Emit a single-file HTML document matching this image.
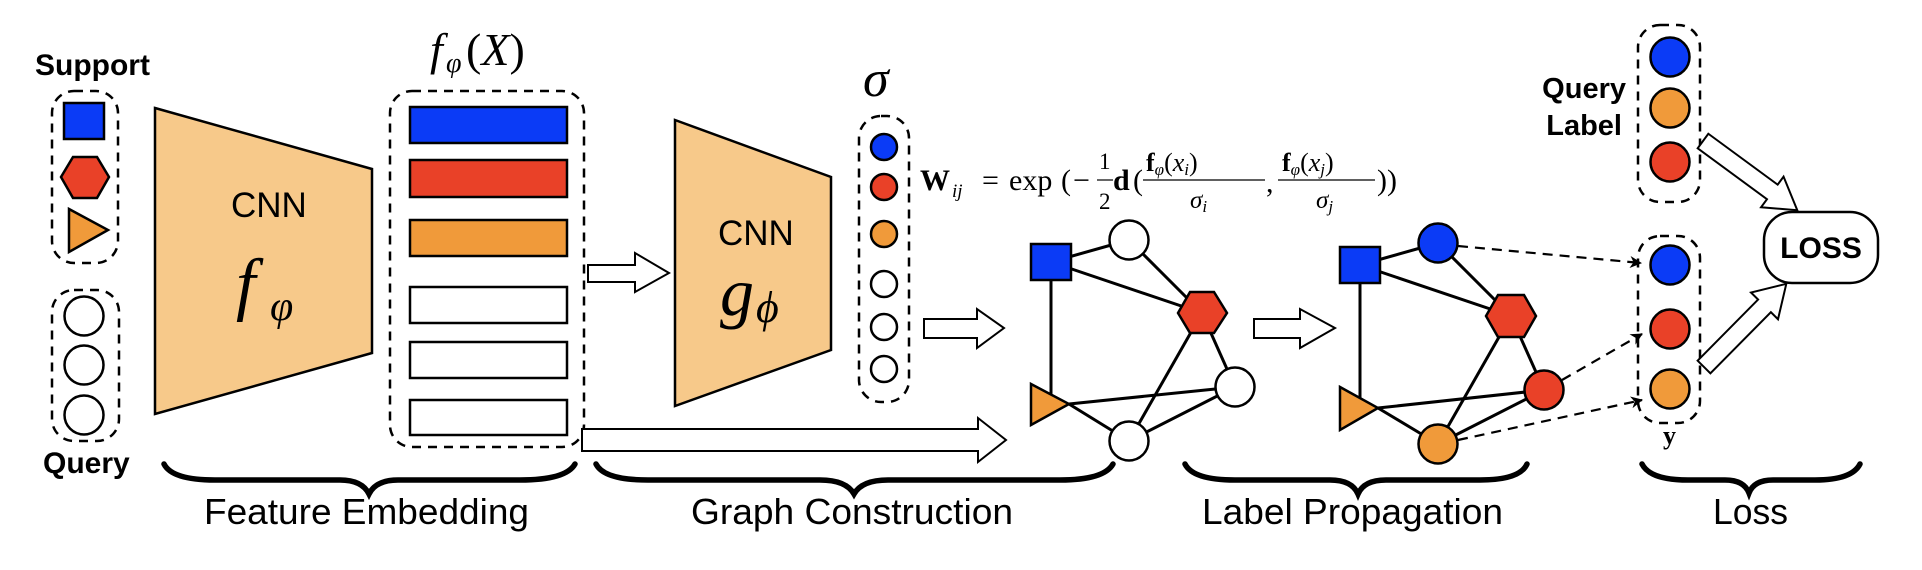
<!DOCTYPE html>
<html><head><meta charset="utf-8"><style>
html,body{margin:0;padding:0;background:#fff}
svg{display:block}
.sans{font-family:"Liberation Sans",sans-serif}
.serif{font-family:"Liberation Serif",serif}
</style></head><body>
<svg width="1922" height="570" viewBox="0 0 1922 570" xmlns="http://www.w3.org/2000/svg">
<defs>
<marker id="ah" markerWidth="12" markerHeight="12" refX="11" refY="6" orient="auto" markerUnits="userSpaceOnUse">
<path d="M0,0 L12,6 L0,12 L3.5,6 Z" fill="#000"/>
</marker>
</defs>
<g stroke="#000" stroke-width="2.5">
<!-- Support -->
<text x="35" y="75" class="sans" font-weight="bold" font-size="30" stroke="none">Support</text>
<rect x="52" y="91" width="66" height="172" rx="22" fill="none" stroke-dasharray="9 7"/>
<rect x="64" y="103" width="40" height="36" fill="#0b3bf6"/>
<polygon points="61,177 73,157 97,157 109,177 97,198 73,198" fill="#e94128"/>
<polygon points="69,209 108,230 69,252" fill="#f09a3a"/>
<rect x="52" y="290" width="67" height="151" rx="22" fill="none" stroke-dasharray="9 7"/>
<circle cx="84" cy="316" r="19.5" fill="#fff"/>
<circle cx="84" cy="365" r="19.5" fill="#fff"/>
<circle cx="84" cy="415" r="19.5" fill="#fff"/>
<text x="43" y="473" class="sans" font-weight="bold" font-size="30" stroke="none">Query</text>

<!-- CNN 1 -->
<polygon points="155,108 372,169 372,353 155,414" fill="#f7c98a"/>
<text x="231" y="217" class="sans" font-size="35" stroke="none">CNN</text>
<text x="236" y="307" class="serif" font-style="italic" font-size="70" stroke="none">f</text>
<text x="270" y="320" class="serif" font-style="italic" font-size="42" stroke="none">φ</text>

<!-- Embeddings -->
<text x="430" y="65" class="serif" font-style="italic" font-size="46" stroke="none">f</text>
<text x="446" y="72" class="serif" font-style="italic" font-size="28" stroke="none">φ</text>
<text x="466" y="65" class="serif" font-size="46" stroke="none">(<tspan font-style="italic">X</tspan>)</text>
<rect x="390" y="91" width="194" height="356" rx="22" fill="none" stroke-dasharray="9 7"/>
<rect x="410" y="107" width="157" height="36" fill="#0b3bf6"/>
<rect x="410" y="160" width="157" height="37" fill="#e94128"/>
<rect x="410" y="220" width="157" height="36" fill="#f09a3a"/>
<rect x="410" y="287" width="157" height="36" fill="#fff"/>
<rect x="410" y="342" width="157" height="36" fill="#fff"/>
<rect x="410" y="400" width="157" height="35" fill="#fff"/>

<!-- Hollow arrows -->
<polygon points="588,265 635,265 635,253 669,273 635,292 635,282 588,282" fill="#fff" stroke-width="2"/>
<polygon points="582,429 978,429 978,418 1006,440 978,462 978,451 582,451" fill="#fff" stroke-width="2"/>
<polygon points="924,319 977,319 977,309 1004,328 977,348 977,338 924,338" fill="#fff" stroke-width="2"/>
<polygon points="1254,319 1300,319 1300,309 1335,328 1300,348 1300,338 1254,338" fill="#fff" stroke-width="2"/>

<!-- CNN 2 -->
<polygon points="675,120 831,177 831,350 675,406" fill="#f7c98a"/>
<text x="718" y="245" class="sans" font-size="35" stroke="none">CNN</text>
<text x="720" y="315" class="serif" font-style="italic" font-size="68" stroke="none">g</text>
<text x="756" y="322" class="serif" font-style="italic" font-size="44" stroke="none">ϕ</text>

<!-- sigma -->
<text x="863" y="96" class="serif" font-style="italic" font-size="52" stroke="none">σ</text>
<rect x="859" y="116" width="50" height="286" rx="22" fill="none" stroke-dasharray="9 7"/>
<circle cx="884" cy="147" r="13" fill="#0b3bf6"/>
<circle cx="884" cy="187" r="13" fill="#e94128"/>
<circle cx="884" cy="234" r="13" fill="#f09a3a"/>
<circle cx="884" cy="284" r="13" fill="#fff"/>
<circle cx="884" cy="327" r="13" fill="#fff"/>
<circle cx="884" cy="369" r="13" fill="#fff"/>

<!-- formula -->
<g stroke="none" class="serif">
<text x="920" y="190" font-size="30" font-weight="bold">W</text>
<text x="952" y="197" font-size="19" font-style="italic">ij</text>
<text x="982" y="190" font-size="30">=</text>
<text x="1009" y="190" font-size="30">exp</text>
<text x="1061" y="190" font-size="30">(</text>
<text x="1073" y="190" font-size="30">−</text>
<text x="1099" y="169" font-size="23">1</text>
<line x1="1097" y1="180" x2="1113" y2="180" stroke="#000" stroke-width="1.2"/>
<text x="1099" y="209" font-size="23">2</text>
<text x="1113" y="190" font-size="30" font-weight="bold">d</text>
<text x="1133" y="190" font-size="30">(</text>
<text x="1146" y="171" font-size="26"><tspan font-weight="bold">f</tspan><tspan font-size="17" font-style="italic" dy="4">φ</tspan><tspan dy="-4">(</tspan><tspan font-style="italic">x</tspan><tspan font-size="17" font-style="italic" dy="4">i</tspan><tspan dy="-4">)</tspan></text>
<line x1="1143" y1="180" x2="1265" y2="180" stroke="#000" stroke-width="1.2"/>
<text x="1190" y="208" font-size="25" font-style="italic">σ<tspan font-size="17" dy="4">i</tspan></text>
<text x="1266" y="192" font-size="30">,</text>
<text x="1282" y="171" font-size="26"><tspan font-weight="bold">f</tspan><tspan font-size="17" font-style="italic" dy="4">φ</tspan><tspan dy="-4">(</tspan><tspan font-style="italic">x</tspan><tspan font-size="17" font-style="italic" dy="4">j</tspan><tspan dy="-4">)</tspan></text>
<line x1="1278" y1="180" x2="1375" y2="180" stroke="#000" stroke-width="1.2"/>
<text x="1316" y="208" font-size="25" font-style="italic">σ<tspan font-size="17" dy="4">j</tspan></text>
<text x="1377" y="190" font-size="30">))</text>
</g>

<!-- Graph 1 -->
<g stroke-width="3">
<line x1="1051" y1="262" x2="1129" y2="240"/>
<line x1="1051" y1="262" x2="1202" y2="313"/>
<line x1="1129" y1="240" x2="1202" y2="313"/>
<line x1="1051" y1="262" x2="1051" y2="395"/>
<line x1="1069" y1="404" x2="1235" y2="387"/>
<line x1="1069" y1="404" x2="1129" y2="441"/>
<line x1="1202" y1="313" x2="1235" y2="387"/>
<line x1="1202" y1="313" x2="1129" y2="441"/>
<line x1="1235" y1="387" x2="1129" y2="441"/>
</g>
<rect x="1031" y="244" width="40" height="36" fill="#0b3bf6"/>
<circle cx="1129" cy="240" r="19.5" fill="#fff"/>
<polygon points="1178,313 1190,292 1214,292 1227,313 1214,333 1190,333" fill="#e94128"/>
<circle cx="1235" cy="387" r="19.5" fill="#fff"/>
<polygon points="1031,384 1069,404 1031,425" fill="#f09a3a"/>
<circle cx="1129" cy="441" r="19.5" fill="#fff"/>

<!-- Graph 2 -->
<g stroke-width="3">
<line x1="1360" y1="265" x2="1438" y2="243"/>
<line x1="1360" y1="265" x2="1511" y2="316"/>
<line x1="1438" y1="243" x2="1511" y2="316"/>
<line x1="1360" y1="265" x2="1360" y2="398"/>
<line x1="1378" y1="408" x2="1544" y2="390"/>
<line x1="1378" y1="408" x2="1438" y2="444"/>
<line x1="1511" y1="316" x2="1544" y2="390"/>
<line x1="1511" y1="316" x2="1438" y2="444"/>
<line x1="1544" y1="390" x2="1438" y2="444"/>
</g>
<g stroke-width="2.2" stroke-dasharray="10 7" fill="none">
<line x1="1458" y1="246" x2="1641" y2="263" marker-end="url(#ah)"/>
<line x1="1562" y1="380" x2="1642" y2="334" marker-end="url(#ah)"/>
<line x1="1458" y1="440" x2="1642" y2="400" marker-end="url(#ah)"/>
</g>
<rect x="1340" y="247" width="40" height="36" fill="#0b3bf6"/>
<circle cx="1438" cy="243" r="19.5" fill="#0b3bf6"/>
<polygon points="1486,316 1498,295 1524,295 1536,316 1524,337 1498,337" fill="#e94128"/>
<circle cx="1544" cy="390" r="19.5" fill="#e94128"/>
<polygon points="1340,387 1378,408 1340,430" fill="#f09a3a"/>
<circle cx="1438" cy="444" r="19.5" fill="#f09a3a"/>

<!-- Query label -->
<text x="1626" y="98" text-anchor="end" class="sans" font-weight="bold" font-size="29" stroke="none">Query</text>
<text x="1622" y="135" text-anchor="end" class="sans" font-weight="bold" font-size="29" stroke="none">Label</text>
<rect x="1638" y="25" width="62" height="177" rx="22" fill="none" stroke-dasharray="9 7"/>
<circle cx="1670" cy="57" r="19.5" fill="#0b3bf6"/>
<circle cx="1670" cy="108" r="19.5" fill="#f09a3a"/>
<circle cx="1670" cy="162" r="19.5" fill="#e94128"/>

<!-- y -->
<rect x="1638" y="236" width="62" height="187" rx="22" fill="none" stroke-dasharray="9 7"/>
<circle cx="1670" cy="265" r="19.5" fill="#0b3bf6"/>
<circle cx="1670" cy="329" r="19.5" fill="#e94128"/>
<circle cx="1670" cy="389" r="19.5" fill="#f09a3a"/>
<text x="1663" y="444" class="serif" font-weight="bold" font-size="26" stroke="none">y</text>

<!-- LOSS -->
<rect x="1764" y="212" width="114" height="71" rx="28" fill="#fff"/>
<text x="1821" y="258" text-anchor="middle" class="sans" font-weight="bold" font-size="30" stroke="none">LOSS</text>
<g transform="translate(1703,141) rotate(36.3)" >
<polygon points="0,-9 86,-9 86,-19 117,0 86,19 86,9 0,9" fill="#fff" stroke-width="2"/>
</g>
<g transform="translate(1704,367) rotate(-45.3)">
<polygon points="0,-9 86,-9 86,-19 117,0 86,19 86,9 0,9" fill="#fff" stroke-width="2"/>
</g>

<!-- Braces -->
<g fill="none" stroke-width="5.5" stroke-linecap="round">
<path d="M164,464 Q172,480 215,480 L340,480 Q362,480 369,494 Q376,480 398,480 L520,480 Q566,480 575,464"/>
<path d="M596,464 Q604,480 648,480 L820,480 Q846,480 854,494 Q862,480 888,480 L1060,480 Q1104,480 1113,464"/>
<path d="M1185,464 Q1193,480 1235,480 L1330,480 Q1352,480 1358,494 Q1364,480 1386,480 L1480,480 Q1520,480 1527,464"/>
<path d="M1642,464 Q1650,480 1688,480 L1725,480 Q1744,480 1749,493 Q1754,480 1773,480 L1815,480 Q1852,480 1860,464"/>
</g>
<g class="sans" font-size="36" stroke="none">
<text x="204" y="524" textLength="325" lengthAdjust="spacingAndGlyphs">Feature Embedding</text>
<text x="691" y="524" textLength="322" lengthAdjust="spacingAndGlyphs">Graph Construction</text>
<text x="1202" y="524" textLength="301" lengthAdjust="spacingAndGlyphs">Label Propagation</text>
<text x="1713" y="524" textLength="75" lengthAdjust="spacingAndGlyphs">Loss</text>
</g>
</g>
</svg>
</body></html>
